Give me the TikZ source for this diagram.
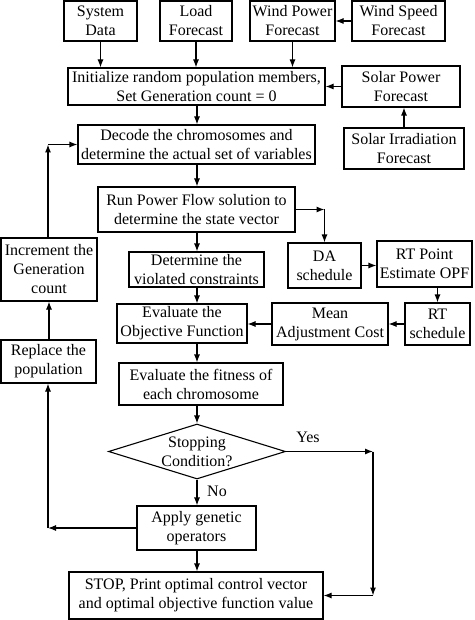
\documentclass[tikz,border=0pt]{standalone}
\usepackage{fontspec}
\setmainfont{Liberation Serif}
\usetikzlibrary{arrows.meta,shapes.geometric}

\begin{document}
\begin{tikzpicture}[x=1pt, y=-1pt, line width=1.1pt,
    blk/.style={draw, align=center, inner sep=0pt, font=\fontsize{16}{19}\selectfont},
    dia/.style={draw, diamond, inner sep=0pt, minimum width=177pt, minimum height=55pt},
    lbl/.style={align=center, inner sep=0pt, font=\fontsize{16}{19}\selectfont},
    arr/.style={-{Latex[length=8pt,width=6pt]}}]
    \useasboundingbox (0,0) rectangle (474,620);
    \node[blk, minimum width=73pt, minimum height=40pt] (sysdata) at (100.5,21) {System\\Data};
    \node[blk, minimum width=72pt, minimum height=40pt] (load) at (196,21) {Load\\Forecast};
    \node[blk, minimum width=85pt, minimum height=40pt] (windp) at (292.5,21) {Wind Power\\Forecast};
    \node[blk, minimum width=93pt, minimum height=40pt] (winds) at (398.5,21) {Wind Speed\\Forecast};
    \node[blk, minimum width=257pt, minimum height=37pt] (init) at (196.5,86.5) {Initialize random population members,\\Set Generation count = 0};
    \node[blk, minimum width=118pt, minimum height=41pt] (solarp) at (401,86.5) {Solar Power\\Forecast};
    \node[blk, minimum width=120pt, minimum height=41pt] (solari) at (404,148.5) {Solar Irradiation\\Forecast};
    \node[blk, minimum width=237pt, minimum height=39pt] (decode) at (196.5,144.5) {Decode the chromosomes and\\determine the actual set of variables};
    \node[blk, minimum width=197pt, minimum height=45pt] (run) at (196.5,209.5) {Run Power Flow solution to\\determine the state vector};
    \node[blk, minimum width=73pt, minimum height=45pt] (da) at (324.5,265.5) {DA\\schedule};
    \node[blk, minimum width=95pt, minimum height=46pt] (rtopf) at (424.5,264) {RT Point\\Estimate OPF};
    \node[blk, minimum width=65pt, minimum height=42pt] (rtsch) at (437.5,324) {RT\\schedule};
    \node[blk, minimum width=116pt, minimum height=42pt] (mean) at (330,324) {Mean\\Adjustment Cost};
    \node[blk, minimum width=135pt, minimum height=35pt] (viol) at (196.5,269.5) {Determine the\\violated constraints};
    \node[blk, minimum width=130pt, minimum height=39pt] (obj) at (182,323.5) {Evaluate the\\Objective Function};
    \node[blk, minimum width=164pt, minimum height=42pt] (fit) at (201,384) {Evaluate the fitness of\\each chromosome};
    \node[blk, minimum width=96pt, minimum height=63pt] (incr) at (49,269.5) {Increment the\\Generation\\count};
    \node[blk, minimum width=95pt, minimum height=43pt] (repl) at (48.5,361.5) {Replace the\\population};
    \node[dia] (stopc) at (197,451.5) {};
    \node[lbl] (stoptxt) at (stopc) {Stopping\\Condition?};
    \node[blk, minimum width=119pt, minimum height=44pt] (apply) at (196.5,528) {Apply genetic\\operators};
    \node[blk, minimum width=254pt, minimum height=47pt] (stop) at (196,595.5) {STOP, Print optimal control vector\\and optimal objective function value};
    \node[lbl] (yeslbl) at (308,437) {Yes};
    \node[lbl] (nolbl) at (217,491) {No};
    \coordinate (spine) at (197,0);
    \coordinate (dac) at (da |- run);
    \coordinate (yesc) at (373,451.5);
    \coordinate (noc) at (48,528);
    \coordinate (incc) at (48,144.5);
    \foreach \a in {sysdata, load, windp} \draw[arr] (\a) -- (\a |- init.north);
    \foreach \a/\b in {init/decode, decode/run, run/viol, stopc/apply, apply/stop} \draw[arr] (spine |- \a.south) -- (spine |- \b.north);
    \foreach \a/\b in {viol/obj, obj/fit, fit/stopc} \draw[arr] (spine |- \a.south) -- (spine |- \b.north);
    \draw[arr] (winds) -- (windp);
    \draw[arr] (solarp) -- (init);
    \draw[arr] (solari) -- (solari |- solarp.south);
    \draw[arr] (run) -- (dac);
    \draw[arr] (dac) -- (da);
    \draw[arr] (da) -- (da -| rtopf.west);
    \draw[arr] (rtsch |- rtopf.south) -- (rtsch);
    \draw[arr] (rtsch) -- (mean);
    \draw[arr] (mean) -- (mean -| obj.east);
    \draw[arr] (stopc) -- (yesc);
    \draw[arr] (yesc) -- (yesc |- stop.east);
    \draw[arr] (yesc |- stop.east) -- (stop);
    \draw[arr] (apply) -- (noc);
    \draw[arr] (noc) -- (noc |- repl.south);
    \draw[arr] (repl.north -| incr) -- (incr);
    \draw[arr] (incr.north -| incc) -- (incc);
    \draw[arr] (incc) -- (decode);
  \end{tikzpicture}
\end{document}
